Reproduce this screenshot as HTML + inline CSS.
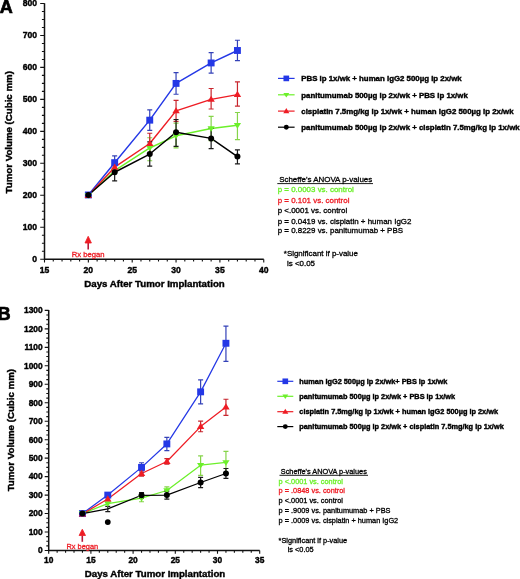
<!DOCTYPE html>
<html><head><meta charset="utf-8"><title>Tumor volume figure</title>
<style>html,body{margin:0;padding:0;background:#fff;width:520px;height:579px;overflow:hidden}svg{display:block}</style>
</head><body>
<svg width="520" height="579" viewBox="0 0 520 579" font-family="'Liberation Sans', Arial, Helvetica, sans-serif">
<style>text{stroke:#000;stroke-width:0.3px}text[font-weight=bold]{stroke-width:0.4px}</style>
<rect width="520" height="579" fill="#fff"/>
<text x="-0.2" y="12.8" font-size="18" font-weight="bold" style="stroke-width:0.7px">A</text>
<text x="-2.6" y="320.0" font-size="18.2" font-weight="bold" style="stroke-width:0.7px">B</text>
<path d="M44.5 3.2V259.2H263.75" fill="none" stroke="#111" stroke-width="1.5"/>
<path d="M40.2 259.2H44.5M41.9 251.21H44.5M41.9 243.22H44.5M41.9 235.23H44.5M40.2 227.24H44.5M41.9 219.25H44.5M41.9 211.26H44.5M41.9 203.27H44.5M40.2 195.27H44.5M41.9 187.28H44.5M41.9 179.29H44.5M41.9 171.3H44.5M40.2 163.31H44.5M41.9 155.32H44.5M41.9 147.33H44.5M41.9 139.34H44.5M40.2 131.35H44.5M41.9 123.36H44.5M41.9 115.37H44.5M41.9 107.38H44.5M40.2 99.39H44.5M41.9 91.4H44.5M41.9 83.41H44.5M41.9 75.42H44.5M40.2 67.42H44.5M41.9 59.43H44.5M41.9 51.44H44.5M41.9 43.45H44.5M40.2 35.46H44.5M41.9 27.47H44.5M41.9 19.48H44.5M41.9 11.49H44.5M40.2 3.5H44.5M44.5 259.2V262.4M53.27 259.2V261.4M62.04 259.2V261.4M70.81 259.2V261.4M79.58 259.2V261.4M88.35 259.2V262.4M97.12 259.2V261.4M105.89 259.2V261.4M114.66 259.2V261.4M123.43 259.2V261.4M132.2 259.2V262.4M140.97 259.2V261.4M149.74 259.2V261.4M158.51 259.2V261.4M167.28 259.2V261.4M176.05 259.2V262.4M184.82 259.2V261.4M193.59 259.2V261.4M202.36 259.2V261.4M211.13 259.2V261.4M219.9 259.2V262.4M228.67 259.2V261.4M237.44 259.2V261.4M246.21 259.2V261.4M254.98 259.2V261.4M263.75 259.2V262.4" fill="none" stroke="#111" stroke-width="1.1"/>
<text x="37" y="261.61" text-anchor="end" font-size="8.6" font-weight="bold">0</text>
<text x="37" y="229.65" text-anchor="end" font-size="8.6" font-weight="bold">100</text>
<text x="37" y="197.68" text-anchor="end" font-size="8.6" font-weight="bold">200</text>
<text x="37" y="165.72" text-anchor="end" font-size="8.6" font-weight="bold">300</text>
<text x="37" y="133.76" text-anchor="end" font-size="8.6" font-weight="bold">400</text>
<text x="37" y="101.8" text-anchor="end" font-size="8.6" font-weight="bold">500</text>
<text x="37" y="69.83" text-anchor="end" font-size="8.6" font-weight="bold">600</text>
<text x="37" y="37.87" text-anchor="end" font-size="8.6" font-weight="bold">700</text>
<text x="37" y="5.91" text-anchor="end" font-size="8.6" font-weight="bold">800</text>
<text x="44.5" y="273.3" text-anchor="middle" font-size="8.6" font-weight="bold">15</text>
<text x="88.35" y="273.3" text-anchor="middle" font-size="8.6" font-weight="bold">20</text>
<text x="132.2" y="273.3" text-anchor="middle" font-size="8.6" font-weight="bold">25</text>
<text x="176.05" y="273.3" text-anchor="middle" font-size="8.6" font-weight="bold">30</text>
<text x="219.9" y="273.3" text-anchor="middle" font-size="8.6" font-weight="bold">35</text>
<text x="263.75" y="273.3" text-anchor="middle" font-size="8.6" font-weight="bold">40</text>
<text x="154.5" y="287.2" text-anchor="middle" font-size="9.7" font-weight="bold">Days After Tumor Implantation</text>
<text transform="translate(11.6 132.3) rotate(-90)" text-anchor="middle" font-size="9.7" font-weight="bold">Tumor Volume (Cubic mm)</text>
<path d="M88.35 194.96 L114.66 162.67 L149.74 120.16 L176.05 83.41 L211.13 62.95 L237.44 50.48" fill="none" stroke="#2438e6" stroke-width="1.45" stroke-linejoin="round"/>
<path d="M88.35 195.27 L114.66 170.66 L149.74 147.97 L176.05 135.82 L211.13 128.47 L237.44 125.28" fill="none" stroke="#6cf02a" stroke-width="1.45" stroke-linejoin="round"/>
<path d="M88.35 195.59 L114.66 167.15 L149.74 143.5 L176.05 110.89 L211.13 99.39 L237.44 94.59" fill="none" stroke="#ee1c24" stroke-width="1.45" stroke-linejoin="round"/>
<path d="M88.35 194.96 L114.66 172.26 L149.74 154.04 L176.05 132.31 L211.13 138.38 L237.44 156.6" fill="none" stroke="#000000" stroke-width="1.45" stroke-linejoin="round"/>
<path d="M88.35 194V195.91M85.85 194H90.85M85.85 195.91H90.85M114.66 155.96V169.07M112.16 155.96H117.16M112.16 169.07H117.16M149.74 109.94V130.39M147.24 109.94H152.24M147.24 130.39H152.24M176.05 72.54V94.27M173.55 72.54H178.55M173.55 94.27H178.55M211.13 52.72V73.18M208.63 52.72H213.63M208.63 73.18H213.63M237.44 40.26V60.71M234.94 40.26H239.94M234.94 60.71H239.94" fill="none" stroke="#3442b8" stroke-width="1.2"/>
<path d="M88.35 194.32V196.23M85.85 194.32H90.85M85.85 196.23H90.85M114.66 168.75V172.58M112.16 168.75H117.16M112.16 172.58H117.16M149.74 137.74V160.76M147.24 137.74H152.24M147.24 160.76H152.24M176.05 123.04V147.97M173.55 123.04H178.55M173.55 147.97H178.55M211.13 116.33V140.62M208.63 116.33H213.63M208.63 140.62H213.63M237.44 112.49V139.66M234.94 112.49H239.94M234.94 139.66H239.94" fill="none" stroke="#86d44a" stroke-width="1.2"/>
<path d="M88.35 194.64V196.55M85.85 194.64H90.85M85.85 196.55H90.85M114.66 165.23V169.07M112.16 165.23H117.16M112.16 169.07H117.16M149.74 133.27V153.72M147.24 133.27H152.24M147.24 153.72H152.24M176.05 100.35V121.44M173.55 100.35H178.55M173.55 121.44H178.55M211.13 88.52V108.98M208.63 88.52H213.63M208.63 108.98H213.63M237.44 81.81V106.1M234.94 81.81H239.94M234.94 106.1H239.94" fill="none" stroke="#c8262e" stroke-width="1.2"/>
<path d="M88.35 194V195.91M85.85 194H90.85M85.85 195.91H90.85M114.66 163.63V180.89M112.16 163.63H117.16M112.16 180.89H117.16M149.74 141.9V166.19M147.24 141.9H152.24M147.24 166.19H152.24M176.05 119.52V146.37M173.55 119.52H178.55M173.55 146.37H178.55M211.13 128.15V148.61M208.63 128.15H213.63M208.63 148.61H213.63M237.44 149.89V163.95M234.94 149.89H239.94M234.94 163.95H239.94" fill="none" stroke="#1a1a1a" stroke-width="1.2"/>
<rect x="84.9" y="191.51" width="6.9" height="6.9" fill="#2438e6"/>
<rect x="111.21" y="159.22" width="6.9" height="6.9" fill="#2438e6"/>
<rect x="146.29" y="116.71" width="6.9" height="6.9" fill="#2438e6"/>
<rect x="172.6" y="79.96" width="6.9" height="6.9" fill="#2438e6"/>
<rect x="207.68" y="59.5" width="6.9" height="6.9" fill="#2438e6"/>
<rect x="233.99" y="47.03" width="6.9" height="6.9" fill="#2438e6"/>
<path d="M88.35 198.63L91.95 193.03L84.75 193.03Z" fill="#6cf02a"/>
<path d="M114.66 174.02L118.26 168.42L111.06 168.42Z" fill="#6cf02a"/>
<path d="M149.74 151.33L153.34 145.73L146.14 145.73Z" fill="#6cf02a"/>
<path d="M176.05 139.18L179.65 133.58L172.45 133.58Z" fill="#6cf02a"/>
<path d="M211.13 131.83L214.73 126.23L207.53 126.23Z" fill="#6cf02a"/>
<path d="M237.44 128.64L241.04 123.04L233.84 123.04Z" fill="#6cf02a"/>
<path d="M88.35 191.87L92.05 198.07L84.65 198.07Z" fill="#ee1c24"/>
<path d="M114.66 163.43L118.36 169.63L110.96 169.63Z" fill="#ee1c24"/>
<path d="M149.74 139.78L153.44 145.98L146.04 145.98Z" fill="#ee1c24"/>
<path d="M176.05 107.17L179.75 113.37L172.35 113.37Z" fill="#ee1c24"/>
<path d="M211.13 95.67L214.83 101.87L207.43 101.87Z" fill="#ee1c24"/>
<path d="M237.44 90.87L241.14 97.07L233.74 97.07Z" fill="#ee1c24"/>
<circle cx="88.35" cy="194.96" r="3" fill="#000000"/>
<circle cx="114.66" cy="172.26" r="3" fill="#000000"/>
<circle cx="149.74" cy="154.04" r="3" fill="#000000"/>
<circle cx="176.05" cy="132.31" r="3" fill="#000000"/>
<circle cx="211.13" cy="138.38" r="3" fill="#000000"/>
<circle cx="237.44" cy="156.6" r="3" fill="#000000"/>
<path d="M48.7 310.1V550.5H259.7" fill="none" stroke="#111" stroke-width="1.5"/>
<path d="M44.7 550.5H48.7M46.3 545.88H48.7M46.3 541.27H48.7M46.3 536.65H48.7M44.7 532.03H48.7M46.3 527.41H48.7M46.3 522.8H48.7M46.3 518.18H48.7M44.7 513.56H48.7M46.3 508.94H48.7M46.3 504.33H48.7M46.3 499.71H48.7M44.7 495.09H48.7M46.3 490.48H48.7M46.3 485.86H48.7M46.3 481.24H48.7M44.7 476.62H48.7M46.3 472.01H48.7M46.3 467.39H48.7M46.3 462.77H48.7M44.7 458.15H48.7M46.3 453.54H48.7M46.3 448.92H48.7M46.3 444.3H48.7M44.7 439.68H48.7M46.3 435.07H48.7M46.3 430.45H48.7M46.3 425.83H48.7M44.7 421.22H48.7M46.3 416.6H48.7M46.3 411.98H48.7M46.3 407.36H48.7M44.7 402.75H48.7M46.3 398.13H48.7M46.3 393.51H48.7M46.3 388.89H48.7M44.7 384.28H48.7M46.3 379.66H48.7M46.3 375.04H48.7M46.3 370.42H48.7M44.7 365.81H48.7M46.3 361.19H48.7M46.3 356.57H48.7M46.3 351.96H48.7M44.7 347.34H48.7M46.3 342.72H48.7M46.3 338.1H48.7M46.3 333.49H48.7M44.7 328.87H48.7M46.3 324.25H48.7M46.3 319.63H48.7M46.3 315.02H48.7M44.7 310.4H48.7M48.7 550.5V553.7M57.14 550.5V552.7M65.58 550.5V552.7M74.02 550.5V552.7M82.46 550.5V552.7M90.9 550.5V553.7M99.34 550.5V552.7M107.78 550.5V552.7M116.22 550.5V552.7M124.66 550.5V552.7M133.1 550.5V553.7M141.54 550.5V552.7M149.98 550.5V552.7M158.42 550.5V552.7M166.86 550.5V552.7M175.3 550.5V553.7M183.74 550.5V552.7M192.18 550.5V552.7M200.62 550.5V552.7M209.06 550.5V552.7M217.5 550.5V553.7M225.94 550.5V552.7M234.38 550.5V552.7M242.82 550.5V552.7M251.26 550.5V552.7M259.7 550.5V553.7" fill="none" stroke="#111" stroke-width="1.1"/>
<text x="42.7" y="553.35" text-anchor="end" font-size="8.4" font-weight="bold">0</text>
<text x="42.7" y="534.88" text-anchor="end" font-size="8.4" font-weight="bold">100</text>
<text x="42.7" y="516.41" text-anchor="end" font-size="8.4" font-weight="bold">200</text>
<text x="42.7" y="497.94" text-anchor="end" font-size="8.4" font-weight="bold">300</text>
<text x="42.7" y="479.48" text-anchor="end" font-size="8.4" font-weight="bold">400</text>
<text x="42.7" y="461.01" text-anchor="end" font-size="8.4" font-weight="bold">500</text>
<text x="42.7" y="442.54" text-anchor="end" font-size="8.4" font-weight="bold">600</text>
<text x="42.7" y="424.07" text-anchor="end" font-size="8.4" font-weight="bold">700</text>
<text x="42.7" y="405.6" text-anchor="end" font-size="8.4" font-weight="bold">800</text>
<text x="42.7" y="387.13" text-anchor="end" font-size="8.4" font-weight="bold">900</text>
<text x="42.7" y="368.66" text-anchor="end" font-size="8.4" font-weight="bold">1000</text>
<text x="42.7" y="350.19" text-anchor="end" font-size="8.4" font-weight="bold">1100</text>
<text x="42.7" y="331.72" text-anchor="end" font-size="8.4" font-weight="bold">1200</text>
<text x="42.7" y="313.25" text-anchor="end" font-size="8.4" font-weight="bold">1300</text>
<text x="48.7" y="562.9" text-anchor="middle" font-size="8.4" font-weight="bold">10</text>
<text x="90.9" y="562.9" text-anchor="middle" font-size="8.4" font-weight="bold">15</text>
<text x="133.1" y="562.9" text-anchor="middle" font-size="8.4" font-weight="bold">20</text>
<text x="175.3" y="562.9" text-anchor="middle" font-size="8.4" font-weight="bold">25</text>
<text x="217.5" y="562.9" text-anchor="middle" font-size="8.4" font-weight="bold">30</text>
<text x="259.7" y="562.9" text-anchor="middle" font-size="8.4" font-weight="bold">35</text>
<text x="155" y="577" text-anchor="middle" font-size="9.7" font-weight="bold">Days After Tumor Implantation</text>
<text transform="translate(13.6 430.2) rotate(-90)" text-anchor="middle" font-size="9.7" font-weight="bold">Tumor Volume (Cubic mm)</text>
<path d="M82.46 513.56 L107.78 495.09 L141.54 467.39 L166.86 443.93 L200.62 391.85 L225.94 343.28" fill="none" stroke="#2438e6" stroke-width="1.25" stroke-linejoin="round"/>
<path d="M82.46 513.56 L107.78 503.59 L141.54 498.05 L166.86 490.48 L200.62 465.17 L225.94 462.4" fill="none" stroke="#6cf02a" stroke-width="1.25" stroke-linejoin="round"/>
<path d="M82.46 513.93 L107.78 498.97 L141.54 473.48 L166.86 461.48 L200.62 426.57 L225.94 406.99" fill="none" stroke="#ee1c24" stroke-width="1.25" stroke-linejoin="round"/>
<path d="M82.46 513.56 L107.78 508.94 L141.54 495.28 L166.86 495.09 L200.62 482.53 L225.94 473.48" fill="none" stroke="#000000" stroke-width="1.25" stroke-linejoin="round"/>
<path d="M82.46 512.08V515.04M79.96 512.08H84.96M79.96 515.04H84.96M141.54 462.77V472.01M139.04 462.77H144.04M139.04 472.01H144.04M166.86 437.28V450.58M164.36 437.28H169.36M164.36 450.58H169.36M200.62 379.84V403.85M198.12 379.84H203.12M198.12 403.85H203.12M225.94 326.1V361.38M223.44 326.1H228.44M223.44 361.38H228.44" fill="none" stroke="#3442b8" stroke-width="1.2"/>
<path d="M82.46 512.08V515.04M79.96 512.08H84.96M79.96 515.04H84.96M141.54 494.35V501.74M139.04 494.35H144.04M139.04 501.74H144.04M166.86 486.78V494.17M164.36 486.78H169.36M164.36 494.17H169.36M200.62 455.94V475.33M198.12 455.94H203.12M198.12 475.33H203.12M225.94 451.32V472.56M223.44 451.32H228.44M223.44 472.56H228.44" fill="none" stroke="#86d44a" stroke-width="1.2"/>
<path d="M82.46 512.45V515.41M79.96 512.45H84.96M79.96 515.41H84.96M141.54 470.71V476.25M139.04 470.71H144.04M139.04 476.25H144.04M166.86 458.71V464.25M164.36 458.71H169.36M164.36 464.25H169.36M200.62 421.03V431.74M198.12 421.03H203.12M198.12 431.74H203.12M225.94 399.24V415.31M223.44 399.24H228.44M223.44 415.31H228.44" fill="none" stroke="#c8262e" stroke-width="1.2"/>
<path d="M82.46 512.08V515.04M79.96 512.08H84.96M79.96 515.04H84.96M107.78 506.36V511.53M105.28 506.36H110.28M105.28 511.53H110.28M141.54 492.51V498.05M139.04 492.51H144.04M139.04 498.05H144.04M166.86 491.03V499.16M164.36 491.03H169.36M164.36 499.16H169.36M200.62 477.36V487.7M198.12 477.36H203.12M198.12 487.7H203.12M225.94 468.5V478.47M223.44 468.5H228.44M223.44 478.47H228.44" fill="none" stroke="#1a1a1a" stroke-width="1.2"/>
<rect x="79.01" y="510.11" width="6.9" height="6.9" fill="#2438e6"/>
<rect x="104.33" y="491.64" width="6.9" height="6.9" fill="#2438e6"/>
<rect x="138.09" y="463.94" width="6.9" height="6.9" fill="#2438e6"/>
<rect x="163.41" y="440.48" width="6.9" height="6.9" fill="#2438e6"/>
<rect x="197.17" y="388.4" width="6.9" height="6.9" fill="#2438e6"/>
<rect x="222.49" y="339.83" width="6.9" height="6.9" fill="#2438e6"/>
<path d="M82.46 516.92L86.06 511.32L78.86 511.32Z" fill="#6cf02a"/>
<path d="M107.78 506.95L111.38 501.35L104.18 501.35Z" fill="#6cf02a"/>
<path d="M141.54 501.41L145.14 495.81L137.94 495.81Z" fill="#6cf02a"/>
<path d="M166.86 493.84L170.46 488.24L163.26 488.24Z" fill="#6cf02a"/>
<path d="M200.62 468.53L204.22 462.93L197.02 462.93Z" fill="#6cf02a"/>
<path d="M225.94 465.76L229.54 460.16L222.34 460.16Z" fill="#6cf02a"/>
<path d="M82.46 510.21L86.16 516.41L78.76 516.41Z" fill="#ee1c24"/>
<path d="M107.78 495.25L111.48 501.45L104.08 501.45Z" fill="#ee1c24"/>
<path d="M141.54 469.76L145.24 475.96L137.84 475.96Z" fill="#ee1c24"/>
<path d="M166.86 457.76L170.56 463.96L163.16 463.96Z" fill="#ee1c24"/>
<path d="M200.62 422.85L204.32 429.05L196.92 429.05Z" fill="#ee1c24"/>
<path d="M225.94 403.27L229.64 409.47L222.24 409.47Z" fill="#ee1c24"/>
<circle cx="82.46" cy="513.56" r="3" fill="#000000"/>
<circle cx="141.54" cy="495.28" r="3" fill="#000000"/>
<circle cx="166.86" cy="495.09" r="3" fill="#000000"/>
<circle cx="200.62" cy="482.53" r="3" fill="#000000"/>
<circle cx="225.94" cy="473.48" r="3" fill="#000000"/>
<circle cx="107.78" cy="522.06" r="2.9" fill="#000"/>
<text x="88.2" y="257.3" text-anchor="middle" font-size="7.7" fill="#ee1c24" style="stroke:#ee1c24">Rx began</text>
<path d="M88.2 243V249.5" stroke="#b8183a" stroke-width="1.6"/>
<path d="M88.2 236.3L91.4 243H85Z" fill="#ee1c24" stroke="#ee1c24" stroke-width="0.8" stroke-linejoin="round"/>
<text x="82.3" y="549.1" text-anchor="middle" font-size="7.4" fill="#ee1c24" style="stroke:#ee1c24">Rx began</text>
<path d="M82.3 535.5V541.8" stroke="#b8183a" stroke-width="1.6"/>
<path d="M82.3 529.2L85.5 535.5H79.1Z" fill="#ee1c24" stroke="#ee1c24" stroke-width="0.8" stroke-linejoin="round"/>
<path d="M278 78.4H294.6" stroke="#2438e6" stroke-width="1.2"/>
<rect x="283.47" y="75.57" width="5.66" height="5.66" fill="#2438e6"/>
<text x="301.3" y="81.23" font-size="7.85" font-weight="bold">PBS ip 1x/wk + human IgG2 500µg ip 2x/wk</text>
<path d="M278 94.8H294.6" stroke="#6cf02a" stroke-width="1.2"/>
<path d="M286.3 97.56L289.25 92.96L283.35 92.96Z" fill="#6cf02a"/>
<text x="301.3" y="97.63" font-size="7.85" font-weight="bold">panitumumab 500µg ip 2x/wk + PBS ip 1x/wk</text>
<path d="M278 111.1H294.6" stroke="#ee1c24" stroke-width="1.2"/>
<path d="M286.3 108.05L289.33 113.13L283.27 113.13Z" fill="#ee1c24"/>
<text x="301.3" y="113.93" font-size="7.85" font-weight="bold">cisplatin 7.5mg/kg ip 1x/wk + human IgG2 500µg ip 2x/wk</text>
<path d="M278 127.2H294.6" stroke="#000000" stroke-width="1.2"/>
<circle cx="286.3" cy="127.2" r="2.46" fill="#000000"/>
<text x="301.3" y="130.03" font-size="7.85" font-weight="bold">panitumumab 500µg ip 2x/wk + cisplatin 7.5mg/kg ip 1x/wk</text>
<path d="M277.3 381.3H293.3" stroke="#2438e6" stroke-width="1.2"/>
<rect x="282.47" y="378.47" width="5.66" height="5.66" fill="#2438e6"/>
<text x="299.3" y="383.95" font-size="7.35" font-weight="bold">human IgG2 500µg ip 2x/wk+ PBS ip 1x/wk</text>
<path d="M277.3 396.3H293.3" stroke="#6cf02a" stroke-width="1.2"/>
<path d="M285.3 399.06L288.25 394.46L282.35 394.46Z" fill="#6cf02a"/>
<text x="299.3" y="398.95" font-size="7.35" font-weight="bold">panitumumab 500µg ip 2x/wk + PBS ip 1x/wk</text>
<path d="M277.3 411.7H293.3" stroke="#ee1c24" stroke-width="1.2"/>
<path d="M285.3 408.65L288.33 413.73L282.27 413.73Z" fill="#ee1c24"/>
<text x="299.3" y="414.35" font-size="7.35" font-weight="bold">cisplatin 7.5mg/kg ip 1x/wk + human IgG2 500µg ip 2x/wk</text>
<path d="M277.3 426.6H293.3" stroke="#000000" stroke-width="1.2"/>
<circle cx="285.3" cy="426.6" r="2.46" fill="#000000"/>
<text x="299.3" y="429.25" font-size="7.35" font-weight="bold">panitumumab 500µg ip 2x/wk + cisplatin 7.5mg/kg ip 1x/wk</text>
<text x="279.2" y="181.9" font-size="7.94" fill="#000" style="stroke:#000">Scheffe's ANOVA p-values</text>
<text x="277.7" y="191.9" font-size="7.94" fill="#6cf02a" style="stroke:#6cf02a">p = 0.0003 vs. control</text>
<text x="277.7" y="202.5" font-size="7.94" fill="#ee1c24" style="stroke:#ee1c24">p = 0.101 vs. control</text>
<text x="277.7" y="213.2" font-size="7.94" fill="#000" style="stroke:#000">p &lt;.0001 vs. control</text>
<text x="277.7" y="223.9" font-size="7.94" fill="#000" style="stroke:#000">p = 0.0419 vs. cisplatin + human IgG2</text>
<text x="277.7" y="233" font-size="7.94" fill="#000" style="stroke:#000">p = 0.8229 vs. panitumumab + PBS</text>
<text x="283.8" y="255.8" font-size="7.94" fill="#000" style="stroke:#000">*Significant if p-value</text>
<text x="287" y="265.7" font-size="7.94" fill="#000" style="stroke:#000">is &lt;0.05</text>
<path d="M277.3 183.6H373" stroke="#000" stroke-width="0.9"/>
<text x="280.8" y="473.7" font-size="7.35" fill="#000" style="stroke:#000">Scheffe's ANOVA p-values</text>
<text x="278.6" y="483.6" font-size="7.35" fill="#6cf02a" style="stroke:#6cf02a">p &lt;.0001 vs. control</text>
<text x="278.6" y="493.4" font-size="7.35" fill="#ee1c24" style="stroke:#ee1c24">p = .0848 vs. control</text>
<text x="278.6" y="503.1" font-size="7.35" fill="#000" style="stroke:#000">p &lt;.0001 vs. control</text>
<text x="278.6" y="513.4" font-size="7.35" fill="#000" style="stroke:#000">p = .9009 vs. panitumumab + PBS</text>
<text x="278.6" y="522.6" font-size="7.35" fill="#000" style="stroke:#000">p = .0009 vs. cisplatin + human IgG2</text>
<text x="278.6" y="542.7" font-size="7.35" fill="#000" style="stroke:#000">*Significant if p-value</text>
<text x="287.7" y="552.4" font-size="7.35" fill="#000" style="stroke:#000">is &lt;0.05</text>
<path d="M279.5 475.3H368" stroke="#000" stroke-width="0.9"/>
</svg>
</body></html>
